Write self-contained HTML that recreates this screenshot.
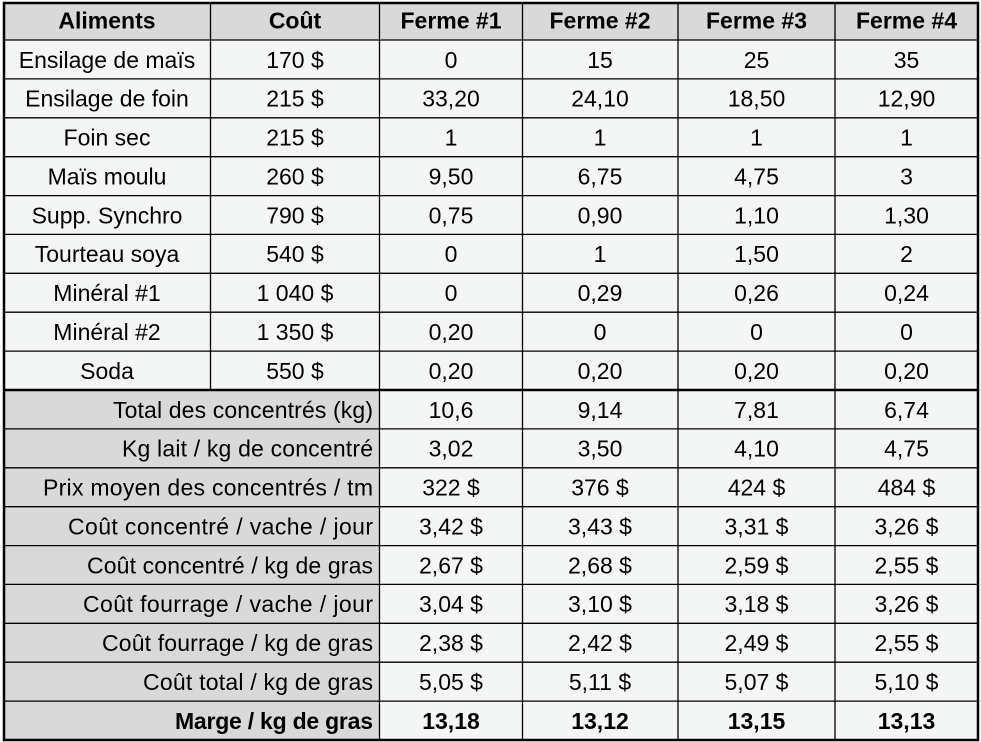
<!DOCTYPE html>
<html><head><meta charset="utf-8"><style>
html,body{margin:0;padding:0;background:#fff;}
svg{display:block;}
text{font-family:"Liberation Sans",Arial,sans-serif;font-size:23px;fill:#000;}
.b{font-weight:bold;}
.c{text-anchor:middle;}
.r{text-anchor:end;}
</style></head><body>
<svg width="981" height="742" viewBox="0 0 981 742" xmlns="http://www.w3.org/2000/svg">
<rect x="0" y="0" width="981" height="742" fill="#fff"/>
<rect x="4" y="3" width="974" height="737" fill="#f4f6f5"/>
<rect x="4" y="3" width="974" height="37" fill="#d9d9d9"/>
<rect x="4" y="390" width="375.5" height="350" fill="#d9d9d9"/>
<g stroke="#000" stroke-width="1.3">
<line x1="4" y1="40" x2="978" y2="40"/>
<line x1="4" y1="78.9" x2="978" y2="78.9"/>
<line x1="4" y1="117.8" x2="978" y2="117.8"/>
<line x1="4" y1="156.7" x2="978" y2="156.7"/>
<line x1="4" y1="195.6" x2="978" y2="195.6"/>
<line x1="4" y1="234.4" x2="978" y2="234.4"/>
<line x1="4" y1="273.3" x2="978" y2="273.3"/>
<line x1="4" y1="312.2" x2="978" y2="312.2"/>
<line x1="4" y1="351.1" x2="978" y2="351.1"/>
<line x1="4" y1="428.9" x2="978" y2="428.9"/>
<line x1="4" y1="467.8" x2="978" y2="467.8"/>
<line x1="4" y1="506.7" x2="978" y2="506.7"/>
<line x1="4" y1="545.6" x2="978" y2="545.6"/>
<line x1="4" y1="584.4" x2="978" y2="584.4"/>
<line x1="4" y1="623.3" x2="978" y2="623.3"/>
<line x1="4" y1="662.2" x2="978" y2="662.2"/>
<line x1="4" y1="701.1" x2="978" y2="701.1"/>
<line x1="210.5" y1="3" x2="210.5" y2="390"/>
<line x1="379.5" y1="3" x2="379.5" y2="740"/>
<line x1="522.5" y1="3" x2="522.5" y2="740"/>
<line x1="678" y1="3" x2="678" y2="740"/>
<line x1="835" y1="3" x2="835" y2="740"/>
</g>
<line x1="4" y1="390" x2="978" y2="390" stroke="#000" stroke-width="2.4"/>
<rect x="4" y="3" width="974" height="737" fill="none" stroke="#000" stroke-width="2.5"/>

<g class="b c">
<text x="107" y="28.5">Aliments</text>
<text x="295" y="28.5">Coût</text>
<text x="451" y="28.5">Ferme #1</text>
<text x="600" y="28.5">Ferme #2</text>
<text x="756.5" y="28.5">Ferme #3</text>
<text x="906.5" y="28.5">Ferme #4</text>
</g>

<g class="c">
<text x="107" y="67.8">Ensilage de maïs</text><text x="295" y="67.8">170 $</text><text x="451" y="67.8">0</text><text x="600" y="67.8">15</text><text x="756.5" y="67.8">25</text><text x="906.5" y="67.8">35</text>
<text x="107" y="106.7">Ensilage de foin</text><text x="295" y="106.7">215 $</text><text x="451" y="106.7">33,20</text><text x="600" y="106.7">24,10</text><text x="756.5" y="106.7">18,50</text><text x="906.5" y="106.7">12,90</text>
<text x="107" y="145.6">Foin sec</text><text x="295" y="145.6">215 $</text><text x="451" y="145.6">1</text><text x="600" y="145.6">1</text><text x="756.5" y="145.6">1</text><text x="906.5" y="145.6">1</text>
<text x="107" y="184.5">Maïs moulu</text><text x="295" y="184.5">260 $</text><text x="451" y="184.5">9,50</text><text x="600" y="184.5">6,75</text><text x="756.5" y="184.5">4,75</text><text x="906.5" y="184.5">3</text>
<text x="107" y="223.4">Supp. Synchro</text><text x="295" y="223.4">790 $</text><text x="451" y="223.4">0,75</text><text x="600" y="223.4">0,90</text><text x="756.5" y="223.4">1,10</text><text x="906.5" y="223.4">1,30</text>
<text x="107" y="262.2">Tourteau soya</text><text x="295" y="262.2">540 $</text><text x="451" y="262.2">0</text><text x="600" y="262.2">1</text><text x="756.5" y="262.2">1,50</text><text x="906.5" y="262.2">2</text>
<text x="107" y="301.1">Minéral #1</text><text x="295" y="301.1">1 040 $</text><text x="451" y="301.1">0</text><text x="600" y="301.1">0,29</text><text x="756.5" y="301.1">0,26</text><text x="906.5" y="301.1">0,24</text>
<text x="107" y="340">Minéral #2</text><text x="295" y="340">1 350 $</text><text x="451" y="340">0,20</text><text x="600" y="340">0</text><text x="756.5" y="340">0</text><text x="906.5" y="340">0</text>
<text x="107" y="378.9">Soda</text><text x="295" y="378.9">550 $</text><text x="451" y="378.9">0,20</text><text x="600" y="378.9">0,20</text><text x="756.5" y="378.9">0,20</text><text x="906.5" y="378.9">0,20</text>
</g>

<g class="r">
<text x="373" y="417.8" textLength="260" lengthAdjust="spacing">Total des concentrés (kg)</text>
<text x="373" y="456.7" textLength="251" lengthAdjust="spacing">Kg lait / kg de concentré</text>
<text x="373" y="495.6" textLength="330" lengthAdjust="spacing">Prix moyen des concentrés / tm</text>
<text x="373" y="534.5" textLength="305" lengthAdjust="spacing">Coût concentré / vache / jour</text>
<text x="373" y="573.4" textLength="286" lengthAdjust="spacing">Coût concentré / kg de gras</text>
<text x="373" y="612.2" textLength="290" lengthAdjust="spacing">Coût fourrage / vache / jour</text>
<text x="373" y="651.1" textLength="271" lengthAdjust="spacing">Coût fourrage / kg de gras</text>
<text x="373" y="690" textLength="230" lengthAdjust="spacing">Coût total / kg de gras</text>
<text x="373" y="728.9" class="b" textLength="198" lengthAdjust="spacing">Marge / kg de gras</text>
</g>

<g class="c">
<text x="451" y="417.8">10,6</text><text x="600" y="417.8">9,14</text><text x="756.5" y="417.8">7,81</text><text x="906.5" y="417.8">6,74</text>
<text x="451" y="456.7">3,02</text><text x="600" y="456.7">3,50</text><text x="756.5" y="456.7">4,10</text><text x="906.5" y="456.7">4,75</text>
<text x="451" y="495.6">322 $</text><text x="600" y="495.6">376 $</text><text x="756.5" y="495.6">424 $</text><text x="906.5" y="495.6">484 $</text>
<text x="451" y="534.5">3,42 $</text><text x="600" y="534.5">3,43 $</text><text x="756.5" y="534.5">3,31 $</text><text x="906.5" y="534.5">3,26 $</text>
<text x="451" y="573.4">2,67 $</text><text x="600" y="573.4">2,68 $</text><text x="756.5" y="573.4">2,59 $</text><text x="906.5" y="573.4">2,55 $</text>
<text x="451" y="612.2">3,04 $</text><text x="600" y="612.2">3,10 $</text><text x="756.5" y="612.2">3,18 $</text><text x="906.5" y="612.2">3,26 $</text>
<text x="451" y="651.1">2,38 $</text><text x="600" y="651.1">2,42 $</text><text x="756.5" y="651.1">2,49 $</text><text x="906.5" y="651.1">2,55 $</text>
<text x="451" y="690">5,05 $</text><text x="600" y="690">5,11 $</text><text x="756.5" y="690">5,07 $</text><text x="906.5" y="690">5,10 $</text>
</g>
<g class="b c">
<text x="451" y="728.9">13,18</text><text x="600" y="728.9">13,12</text><text x="756.5" y="728.9">13,15</text><text x="906.5" y="728.9">13,13</text>
</g>
</svg>
</body></html>
